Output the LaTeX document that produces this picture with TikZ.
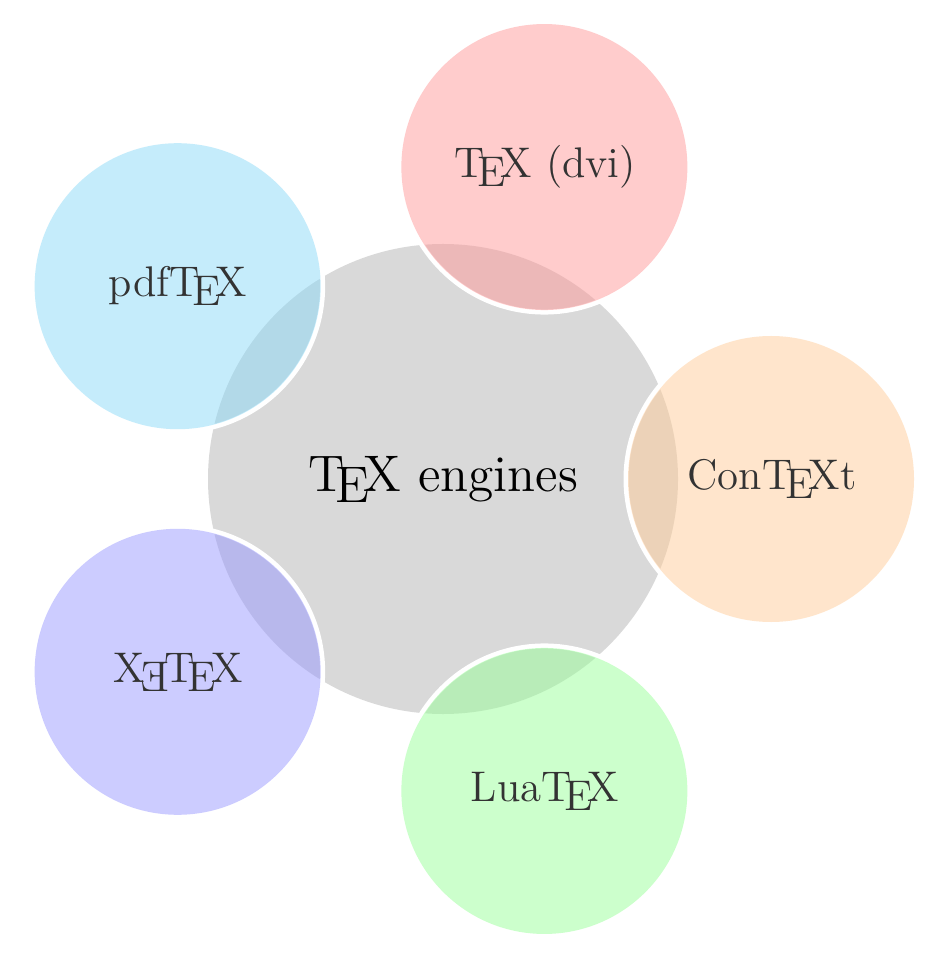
\documentclass[tikz,border=0pt]{standalone}
\begin{document}
\begin{tikzpicture}[x=0.28pt,y=-0.28pt,
  sat/.style={circle,minimum size=288*0.28pt,inner sep=0pt,font=\large,text=black!80},
  ring/.style={draw=white,line width=5*0.28pt}]
\useasboundingbox (0,0) rectangle (949,962);
\node[circle,fill=black!15,minimum size=470*0.28pt,inner sep=0pt,font=\Large] (c) at (443,479) {};
\foreach \n/\a/\col in {dvi/72/red!40,ctx/0/orange!40,lua/-72/green!40,xe/-144/blue!40,pdf/144/cyan!45}{
  \path[ring] (443,479) ++(\a:328 and -328) circle[radius=145];
  \path[fill=\col,fill opacity=0.5] (443,479) ++(\a:328 and -328) circle[radius=143];
}
\node[font=\Large] (ct) at (443,479) {\TeX\ engines};
\node[sat] (dvi) at (545,167) {\TeX\ (dvi)};
\node[sat] (ctx) at (772,479) {Con\TeX t};
\node[sat] (lua) at (545,791) {Lua\TeX};
\node[sat] (xe) at (178,672) {X\kern-.1em\raisebox{-.5ex}{\reflectbox{E}}\kern-.1em\TeX};
\node[sat] (pdf) at (178,286) {pdf\TeX};
\end{tikzpicture}
\end{document}
